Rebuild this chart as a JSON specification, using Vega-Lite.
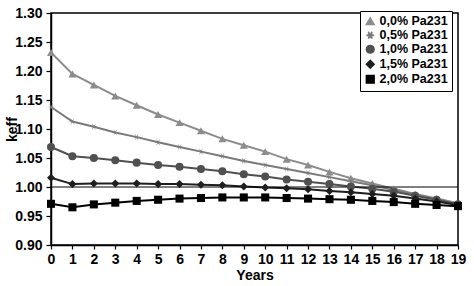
{
  "$schema": "https://vega.github.io/schema/vega-lite/v6.json",
  "width": 407,
  "height": 232,
  "autosize": {"type": "none"},
  "padding": {"left": 51, "top": 13, "right": 16, "bottom": 41},
  "background": "#ffffff",
  "config": {
    "view": {"stroke": "#000000", "strokeWidth": 1.5},
    "font": "Liberation Sans",
    "axis": {"labelFont": "Liberation Sans", "labelFontWeight": "bold", "labelFontSize": 14, "labelColor": "#000", "labelOverlap": false, "labelFlush": false, "titleFont": "Liberation Sans", "titleFontWeight": "bold", "titleFontSize": 14, "titleColor": "#000", "domainColor": "#000", "domainWidth": 1.5, "tickColor": "#000", "tickWidth": 1.2, "tickSize": 5, "grid": false},
    "legend": {"orient": "none", "legendX": 309, "legendY": -2, "strokeColor": "#000", "fillColor": "#fff", "padding": 4, "labelFont": "Liberation Sans", "labelFontWeight": "bold", "labelFontSize": 12.5, "labelColor": "#000", "rowPadding": 0, "symbolSize": 60, "labelOffset": 3}
  },
  "datasets": {
    "main": [
      {"year":0,"s":"0,0% Pa231","k":1.232},{"year":1,"s":"0,0% Pa231","k":1.195},{"year":2,"s":"0,0% Pa231","k":1.176},{"year":3,"s":"0,0% Pa231","k":1.157},{"year":4,"s":"0,0% Pa231","k":1.141},{"year":5,"s":"0,0% Pa231","k":1.125},{"year":6,"s":"0,0% Pa231","k":1.111},{"year":7,"s":"0,0% Pa231","k":1.097},{"year":8,"s":"0,0% Pa231","k":1.083},{"year":9,"s":"0,0% Pa231","k":1.072},{"year":10,"s":"0,0% Pa231","k":1.061},{"year":11,"s":"0,0% Pa231","k":1.048},{"year":12,"s":"0,0% Pa231","k":1.038},{"year":13,"s":"0,0% Pa231","k":1.026},{"year":14,"s":"0,0% Pa231","k":1.015},{"year":15,"s":"0,0% Pa231","k":1.006},{"year":16,"s":"0,0% Pa231","k":0.997},{"year":17,"s":"0,0% Pa231","k":0.988},{"year":18,"s":"0,0% Pa231","k":0.980},{"year":19,"s":"0,0% Pa231","k":0.972},
      {"year":0,"s":"0,5% Pa231","k":1.138},{"year":1,"s":"0,5% Pa231","k":1.113},{"year":2,"s":"0,5% Pa231","k":1.104},{"year":3,"s":"0,5% Pa231","k":1.094},{"year":4,"s":"0,5% Pa231","k":1.086},{"year":5,"s":"0,5% Pa231","k":1.077},{"year":6,"s":"0,5% Pa231","k":1.069},{"year":7,"s":"0,5% Pa231","k":1.061},{"year":8,"s":"0,5% Pa231","k":1.053},{"year":9,"s":"0,5% Pa231","k":1.045},{"year":10,"s":"0,5% Pa231","k":1.038},{"year":11,"s":"0,5% Pa231","k":1.031},{"year":12,"s":"0,5% Pa231","k":1.024},{"year":13,"s":"0,5% Pa231","k":1.017},{"year":14,"s":"0,5% Pa231","k":1.010},{"year":15,"s":"0,5% Pa231","k":1.003},{"year":16,"s":"0,5% Pa231","k":0.995},{"year":17,"s":"0,5% Pa231","k":0.987},{"year":18,"s":"0,5% Pa231","k":0.979},{"year":19,"s":"0,5% Pa231","k":0.971},
      {"year":0,"s":"1,0% Pa231","k":1.069},{"year":1,"s":"1,0% Pa231","k":1.053},{"year":2,"s":"1,0% Pa231","k":1.050},{"year":3,"s":"1,0% Pa231","k":1.046},{"year":4,"s":"1,0% Pa231","k":1.042},{"year":5,"s":"1,0% Pa231","k":1.038},{"year":6,"s":"1,0% Pa231","k":1.035},{"year":7,"s":"1,0% Pa231","k":1.031},{"year":8,"s":"1,0% Pa231","k":1.027},{"year":9,"s":"1,0% Pa231","k":1.022},{"year":10,"s":"1,0% Pa231","k":1.018},{"year":11,"s":"1,0% Pa231","k":1.013},{"year":12,"s":"1,0% Pa231","k":1.009},{"year":13,"s":"1,0% Pa231","k":1.005},{"year":14,"s":"1,0% Pa231","k":1.001},{"year":15,"s":"1,0% Pa231","k":0.997},{"year":16,"s":"1,0% Pa231","k":0.992},{"year":17,"s":"1,0% Pa231","k":0.985},{"year":18,"s":"1,0% Pa231","k":0.978},{"year":19,"s":"1,0% Pa231","k":0.970},
      {"year":0,"s":"1,5% Pa231","k":1.016},{"year":1,"s":"1,5% Pa231","k":1.005},{"year":2,"s":"1,5% Pa231","k":1.006},{"year":3,"s":"1,5% Pa231","k":1.006},{"year":4,"s":"1,5% Pa231","k":1.006},{"year":5,"s":"1,5% Pa231","k":1.005},{"year":6,"s":"1,5% Pa231","k":1.005},{"year":7,"s":"1,5% Pa231","k":1.004},{"year":8,"s":"1,5% Pa231","k":1.003},{"year":9,"s":"1,5% Pa231","k":1.001},{"year":10,"s":"1,5% Pa231","k":0.999},{"year":11,"s":"1,5% Pa231","k":0.998},{"year":12,"s":"1,5% Pa231","k":0.996},{"year":13,"s":"1,5% Pa231","k":0.993},{"year":14,"s":"1,5% Pa231","k":0.991},{"year":15,"s":"1,5% Pa231","k":0.988},{"year":16,"s":"1,5% Pa231","k":0.985},{"year":17,"s":"1,5% Pa231","k":0.980},{"year":18,"s":"1,5% Pa231","k":0.975},{"year":19,"s":"1,5% Pa231","k":0.969},
      {"year":0,"s":"2,0% Pa231","k":0.971},{"year":1,"s":"2,0% Pa231","k":0.965},{"year":2,"s":"2,0% Pa231","k":0.970},{"year":3,"s":"2,0% Pa231","k":0.973},{"year":4,"s":"2,0% Pa231","k":0.976},{"year":5,"s":"2,0% Pa231","k":0.978},{"year":6,"s":"2,0% Pa231","k":0.980},{"year":7,"s":"2,0% Pa231","k":0.981},{"year":8,"s":"2,0% Pa231","k":0.982},{"year":9,"s":"2,0% Pa231","k":0.982},{"year":10,"s":"2,0% Pa231","k":0.982},{"year":11,"s":"2,0% Pa231","k":0.981},{"year":12,"s":"2,0% Pa231","k":0.980},{"year":13,"s":"2,0% Pa231","k":0.979},{"year":14,"s":"2,0% Pa231","k":0.978},{"year":15,"s":"2,0% Pa231","k":0.976},{"year":16,"s":"2,0% Pa231","k":0.974},{"year":17,"s":"2,0% Pa231","k":0.971},{"year":18,"s":"2,0% Pa231","k":0.969},{"year":19,"s":"2,0% Pa231","k":0.967}
    ]
  },
  "layer": [
    {
      "data": {"name": "main"},
      "mark": {"type": "line", "strokeWidth": 2},
      "encoding": {
        "x": {"field": "year", "type": "quantitative", "scale": {"domain": [0, 19], "nice": false}, "axis": {"values": [0,1,2,3,4,5,6,7,8,9,10,11,12,13,14,15,16,17,18,19], "title": "Years", "titlePadding": 2, "labelPadding": 3, "tickSize": 4}},
        "y": {"field": "k", "type": "quantitative", "scale": {"domain": [0.9, 1.3], "nice": false}, "axis": {"values": [0.9,0.95,1.0,1.05,1.1,1.15,1.2,1.25,1.3], "format": ".2f", "title": "keff", "titleX": -39, "titleY": 116, "titleAlign": "center", "titleBaseline": "middle", "titleAngle": 270, "labelPadding": 4}},
        "color": {"field": "s", "type": "nominal", "scale": {"domain": ["0,0% Pa231", "0,5% Pa231", "1,0% Pa231", "1,5% Pa231", "2,0% Pa231"], "range": ["#8c8c8c", "#7a7a7a", "#505050", "#1e1e1e", "#000000"]}, "title": null}
      }
    },
    {
      "data": {"values": [{"k": 1.0}]},
      "mark": {"type": "rule", "color": "#000", "strokeWidth": 1},
      "encoding": {"y": {"field": "k", "type": "quantitative", "scale": {"domain": [0.9, 1.3], "nice": false}, "axis": {"values": [0.9,0.95,1.0,1.05,1.1,1.15,1.2,1.25,1.3], "format": ".2f", "title": "keff", "titleX": -39, "titleY": 116, "titleAlign": "center", "titleBaseline": "middle", "titleAngle": 270, "labelPadding": 4}}}
    },
    {
      "data": {"name": "main"},
      "mark": {"type": "point", "filled": true, "opacity": 1, "size": 65},
      "encoding": {
        "x": {"field": "year", "type": "quantitative", "scale": {"domain": [0, 19], "nice": false}, "axis": {"values": [0,1,2,3,4,5,6,7,8,9,10,11,12,13,14,15,16,17,18,19], "title": "Years", "titlePadding": 2, "labelPadding": 3, "tickSize": 4}},
        "y": {"field": "k", "type": "quantitative", "scale": {"domain": [0.9, 1.3], "nice": false}, "axis": {"values": [0.9,0.95,1.0,1.05,1.1,1.15,1.2,1.25,1.3], "format": ".2f", "title": "keff", "titleX": -39, "titleY": 116, "titleAlign": "center", "titleBaseline": "middle", "titleAngle": 270, "labelPadding": 4}},
        "color": {"field": "s", "type": "nominal", "scale": {"domain": ["0,0% Pa231", "0,5% Pa231", "1,0% Pa231", "1,5% Pa231", "2,0% Pa231"], "range": ["#8c8c8c", "#7a7a7a", "#505050", "#1e1e1e", "#000000"]}, "title": null},
        "shape": {"field": "s", "type": "nominal", "scale": {"domain": ["0,0% Pa231", "0,5% Pa231", "1,0% Pa231", "1,5% Pa231", "2,0% Pa231"], "range": ["triangle-up", "M1,0L0.17,-0.1L0.5,-0.87L0,-0.2L-0.5,-0.87L-0.17,-0.1L-1,0L-0.17,0.1L-0.5,0.87L0,0.2L0.5,0.87L0.17,0.1Z", "circle", "diamond", "square"]}, "title": null}
      }
    }
  ]
}
